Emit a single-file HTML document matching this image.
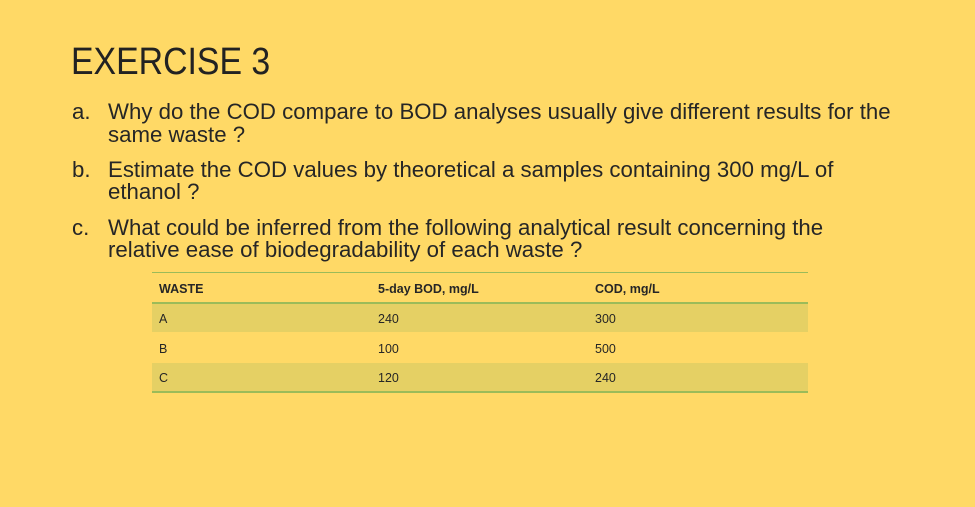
<!DOCTYPE html>
<html><head><meta charset="utf-8"><style>
body{margin:0;width:975px;height:507px;background:#FFD966;overflow:hidden;font-family:"Liberation Sans",sans-serif;color:#262626}
.t{position:absolute;white-space:nowrap}
.title{left:71px;top:41px;font-size:38px;color:#222;transform:scaleX(0.89);transform-origin:left top}
.ln{font-size:22px;line-height:22px;transform:scaleX(1.01);transform-origin:left top}
.cell{position:absolute;font-size:12.5px;line-height:14px}
</style></head><body>
<div class="t title">EXERCISE 3</div>
<div>
<div class="t ln" style="left:72px;top:101px">a.</div>
<div class="t ln" style="left:108px;top:101px">Why do the COD compare to BOD analyses usually give different results for the</div>
<div class="t ln" style="left:108px;top:124px">same waste ?</div></div>
<div>
<div class="t ln" style="left:72px;top:159px">b.</div>
<div class="t ln" style="left:108px;top:159px">Estimate the COD values by theoretical a samples containing 300 mg/L of</div>
<div class="t ln" style="left:108px;top:181px">ethanol ?</div></div>
<div>
<div class="t ln" style="left:72px;top:217px">c.</div>
<div class="t ln" style="left:108px;top:217px">What could be inferred from the following analytical result concerning the</div>
<div class="t ln" style="left:108px;top:239px">relative ease of biodegradability of each waste ?</div></div>
<div style="position:absolute;left:152px;top:272px;width:656px;height:121px">
<div style="position:absolute;left:0;top:0;width:656px;height:1px;background:#9BBB59"></div>
<div style="position:absolute;left:0;top:30px;width:656px;height:2px;background:#9BBB59"></div>
<div style="position:absolute;left:0;top:32px;width:656px;height:28px;background:#E5D064"></div>
<div style="position:absolute;left:0;top:91px;width:656px;height:28px;background:#E5D064"></div>
<div style="position:absolute;left:0;top:119px;width:656px;height:2px;background:#9BBB59"></div>
<div class="cell" style="left:7px;top:10px;font-weight:bold">WASTE</div>
<div class="cell" style="left:226px;top:10px;font-weight:bold">5-day BOD, mg/L</div>
<div class="cell" style="left:443px;top:10px;font-weight:bold">COD, mg/L</div>
<div class="cell" style="left:7px;top:40px">A</div><div class="cell" style="left:226px;top:40px">240</div><div class="cell" style="left:443px;top:40px">300</div>
<div class="cell" style="left:7px;top:70px">B</div><div class="cell" style="left:226px;top:70px">100</div><div class="cell" style="left:443px;top:70px">500</div>
<div class="cell" style="left:7px;top:99px">C</div><div class="cell" style="left:226px;top:99px">120</div><div class="cell" style="left:443px;top:99px">240</div>
</div>
</body></html>
